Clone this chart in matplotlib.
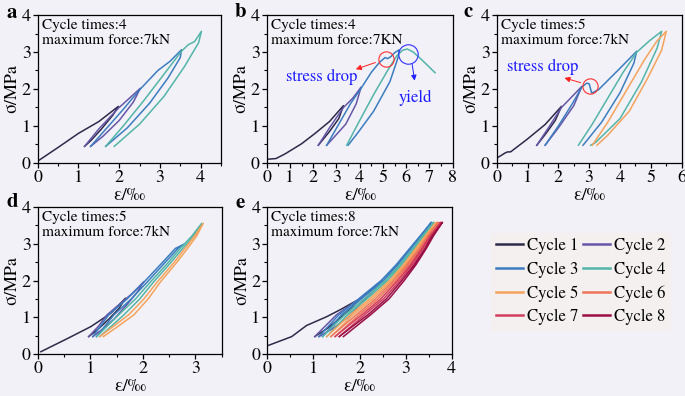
import matplotlib
matplotlib.use("Agg")
import matplotlib.pyplot as plt
from matplotlib.lines import Line2D
from matplotlib.ticker import MultipleLocator

plt.rcParams['font.family'] = ['TeX Gyre Termes', 'Liberation Serif', 'DejaVu Serif']
plt.rcParams['mathtext.fontset'] = 'stix'

BG = '#f2f1f7'
LEG_BG = '#f4f0f0'
CYCLE_LABELS = ['Cycle 1', 'Cycle 2', 'Cycle 3', 'Cycle 4',
                'Cycle 5', 'Cycle 6', 'Cycle 7', 'Cycle 8']
CYCLE_COLORS = ['#2d2a4a', '#6656a8', '#3b7dc0', '#52b5a8',
                '#f5a35c', '#ee7658', '#d43d5a', '#9b0f45']

# ---------------- panel a (cycle times 4) ----------------
A_STRAIN = [
    [0.0, 0.5, 1.0, 1.5, 1.98, 1.85, 1.55, 1.3, 1.15],
    [1.15, 1.5, 1.98, 2.25, 2.52, 2.35, 2.0, 1.6, 1.3],
    [1.3, 1.7, 2.1, 2.52, 2.95, 3.25, 3.53, 3.5, 3.2, 2.75, 2.2, 1.67],
    [1.67, 2.1, 2.6, 3.1, 3.53, 3.7, 3.85, 4.02, 3.95, 3.6, 3.1, 2.5, 1.88],
]
A_STRESS = [
    [0.05, 0.42, 0.8, 1.12, 1.53, 1.3, 0.9, 0.6, 0.45],
    [0.45, 0.92, 1.48, 1.75, 2.02, 1.65, 1.15, 0.72, 0.45],
    [0.45, 0.95, 1.45, 2.0, 2.5, 2.75, 3.06, 2.85, 2.3, 1.62, 0.95, 0.45],
    [0.45, 1.0, 1.68, 2.4, 3.02, 3.2, 3.28, 3.56, 3.25, 2.6, 1.8, 1.05, 0.45],
]

# ---------------- panel b (cycle times 4, failure) ----------------
B_STRAIN = [
    [0.0, 0.4, 0.8, 1.5, 2.08, 2.7, 3.3, 3.1, 2.7, 2.22],
    [2.22, 2.7, 3.3, 3.7, 4.06, 3.85, 3.4, 2.9, 2.58],
    [2.58, 3.1, 3.6, 4.06, 4.5, 4.85, 5.09, 5.2, 5.35, 5.5, 5.7,
     5.65, 5.3, 4.6, 3.9, 3.5],
    [3.44, 4.0, 4.6, 5.2, 5.6, 5.85, 6.05, 6.3, 6.6, 6.9, 7.24],
]
B_STRESS = [
    [0.1, 0.12, 0.25, 0.52, 0.8, 1.12, 1.55, 1.2, 0.85, 0.48],
    [0.48, 0.95, 1.5, 1.75, 2.05, 1.6, 1.05, 0.7, 0.48],
    [0.48, 1.05, 1.6, 2.02, 2.45, 2.72, 2.85, 2.82, 2.88, 2.98, 3.06,
     2.85, 2.2, 1.4, 0.8, 0.48],
    [0.48, 1.15, 1.85, 2.5, 2.9, 3.05, 3.08, 3.0, 2.83, 2.65, 2.44],
]

# ---------------- panel c (cycle times 5, stress drop) ----------------
C_STRAIN = [
    [0.0, 0.27, 0.35, 0.45, 0.97, 1.57, 2.1, 1.9, 1.6, 1.3],
    [1.3, 1.7, 2.1, 2.45, 2.76, 2.5, 2.0, 1.57],
    [1.57, 2.0, 2.45, 2.76, 2.92, 3.0, 3.08, 3.3, 3.95, 4.54,
     4.45, 4.0, 3.4, 2.8],
    [2.65, 3.1, 3.6, 4.1, 4.55, 4.95, 5.35, 5.2, 4.7, 4.0, 3.2, 3.05],
    [3.1, 3.6, 4.2, 4.8, 5.2, 5.5, 5.35, 4.9, 4.3, 3.6, 3.25],
]
C_STRESS = [
    [0.13, 0.27, 0.3, 0.3, 0.63, 1.04, 1.53, 1.15, 0.8, 0.48],
    [0.48, 0.98, 1.5, 1.8, 2.07, 1.55, 0.95, 0.48],
    [0.48, 1.0, 1.6, 2.05, 2.16, 2.14, 1.89, 1.98, 2.52, 3.02,
     2.7, 1.9, 1.1, 0.48],
    [0.48, 1.05, 1.75, 2.45, 3.0, 3.3, 3.56, 3.1, 2.2, 1.2, 0.55, 0.48],
    [0.48, 1.1, 1.95, 2.8, 3.3, 3.56, 3.05, 2.3, 1.4, 0.75, 0.48],
]

# ---------------- panel d (cycle times 5) ----------------
D_STRAIN = [
    [0.06, 0.57, 1.01, 1.39, 1.67, 1.55, 1.35, 1.15, 0.97],
    [0.97, 1.15, 1.32, 1.55, 1.8, 2.02, 1.9, 1.7, 1.45, 1.25, 1.05],
    [1.05, 1.35, 1.7, 2.03, 2.38, 2.62, 2.78, 2.67, 2.43, 2.09, 1.78, 1.45, 1.12],
    [1.12, 1.54, 1.86, 2.15, 2.49, 2.71, 2.93, 3.12,
     2.97, 2.76, 2.54, 2.21, 1.94, 1.64, 1.18],
    [1.18, 1.73, 2.02, 2.28, 2.6, 2.8, 2.98, 3.15,
     3.02, 2.85, 2.65, 2.34, 2.1, 1.83, 1.52, 1.25],
]
D_STRESS = [
    [0.07, 0.43, 0.75, 1.11, 1.52, 1.25, 0.95, 0.68, 0.48],
    [0.48, 0.75, 1.07, 1.35, 1.65, 1.97, 1.7, 1.35, 0.95, 0.7, 0.48],
    [0.48, 1.07, 1.5, 1.97, 2.5, 2.87, 2.98, 2.87, 2.5, 1.97, 1.5, 1.07, 0.48],
    [0.48, 1.07, 1.5, 1.97, 2.5, 2.87, 3.2, 3.55,
     3.2, 2.87, 2.5, 1.97, 1.5, 1.07, 0.48],
    [0.48, 1.07, 1.5, 1.97, 2.5, 2.87, 3.2, 3.55,
     3.2, 2.87, 2.5, 1.97, 1.5, 1.07, 0.75, 0.48],
]

# ---------------- panel e (cycle times 8) ----------------
E_STRAIN = [
    [0.0, 0.53, 0.85, 1.29, 1.6, 1.9, 1.97, 1.8, 1.55, 1.3, 1.03],
    [1.03, 1.5, 1.97, 2.25, 2.48, 2.3, 2.05, 1.75, 1.4, 1.12],
    [1.12, 1.55, 1.98, 2.47, 2.79, 3.09, 3.31, 3.56,
     3.34, 3.12, 2.83, 2.52, 2.04, 1.61, 1.20],
    [1.20, 1.68, 2.10, 2.56, 2.87, 3.16, 3.36, 3.61,
     3.39, 3.19, 2.91, 2.61, 2.16, 1.74, 1.29],
    [1.29, 1.80, 2.22, 2.65, 2.95, 3.22, 3.42, 3.66,
     3.44, 3.25, 2.99, 2.70, 2.28, 1.86, 1.38],
    [1.38, 1.93, 2.34, 2.74, 3.02, 3.29, 3.47, 3.71,
     3.49, 3.32, 3.06, 2.79, 2.40, 1.99, 1.47],
    [1.47, 2.05, 2.46, 2.83, 3.10, 3.35, 3.52, 3.76,
     3.55, 3.38, 3.14, 2.88, 2.52, 2.11, 1.56],
    [1.56, 2.18, 2.58, 2.92, 3.18, 3.42, 3.57, 3.80,
     3.60, 3.45, 3.22, 2.97, 2.64, 2.24, 1.65],
]
E_STRESS = [
    [0.23, 0.48, 0.78, 1.02, 1.22, 1.43, 1.47, 1.22, 0.95, 0.7, 0.48],
    [0.48, 1.07, 1.47, 1.75, 2.0, 1.72, 1.4, 1.0, 0.68, 0.48],
    [0.48, 1.07, 1.5, 2.0, 2.42, 2.87, 3.2, 3.58,
     3.2, 2.87, 2.42, 2.0, 1.5, 1.07, 0.48],
    [0.48, 1.07, 1.5, 2.0, 2.42, 2.87, 3.2, 3.58,
     3.2, 2.87, 2.42, 2.0, 1.5, 1.07, 0.48],
    [0.48, 1.07, 1.5, 2.0, 2.42, 2.87, 3.2, 3.58,
     3.2, 2.87, 2.42, 2.0, 1.5, 1.07, 0.48],
    [0.48, 1.07, 1.5, 2.0, 2.42, 2.87, 3.2, 3.58,
     3.2, 2.87, 2.42, 2.0, 1.5, 1.07, 0.48],
    [0.48, 1.07, 1.5, 2.0, 2.42, 2.87, 3.2, 3.58,
     3.2, 2.87, 2.42, 2.0, 1.5, 1.07, 0.48],
    [0.48, 1.07, 1.5, 2.0, 2.42, 2.87, 3.2, 3.58,
     3.2, 2.87, 2.42, 2.0, 1.5, 1.07, 0.48],
]

CYCLE_TIMES = [4, 4, 5, 5, 8]
FORCE_TEXT = ['7kN', '7KN', '7kN', '7kN', '7kN']
PANEL_LETTERS = ['a', 'b', 'c', 'd', 'e']
X_MAX = [4.5, 8, 6, 3.5, 4]
X_TICKS = [[0, 1, 2, 3, 4], list(range(0, 9)), list(range(0, 7)),
           [0, 1, 2, 3], [0, 1, 2, 3, 4]]
Y_TICKS = [0, 1, 2, 3, 4]

W, H = 685, 396
fig = plt.figure(figsize=(W / 100, H / 100), dpi=100, facecolor=BG)

def frac(l, t, r, b):
    return [l / W, 1 - b / H, (r - l) / W, (b - t) / H]

rects = [frac(37.7, 15, 221, 163), frac(266.7, 15, 452.7, 163),
         frac(496.7, 15, 681.7, 163), frac(37.7, 206.7, 221.7, 354.3),
         frac(267.3, 206.7, 451.7, 354.3)]
letter_pos = [(6, 18), (235, 17), (463, 17), (6, 206.5), (235, 207.5)]
strains = [A_STRAIN, B_STRAIN, C_STRAIN, D_STRAIN, E_STRAIN]
stresses = [A_STRESS, B_STRESS, C_STRESS, D_STRESS, E_STRESS]

axes = []
for k in range(5):
    ax = fig.add_axes(rects[k])
    ax.set_facecolor(BG)
    for xs, ys, col in zip(strains[k], stresses[k], CYCLE_COLORS):
        ax.plot(xs, ys, color=col, lw=1.1, solid_joinstyle='round')
    ax.set_xlim(0, X_MAX[k])
    ax.set_ylim(0, 4)
    ax.set_xticks(X_TICKS[k])
    ax.set_yticks(Y_TICKS)
    ax.xaxis.set_minor_locator(MultipleLocator(0.5))
    ax.yaxis.set_minor_locator(MultipleLocator(0.5))
    ax.tick_params(which='major', direction='out', length=3.5, width=0.9,
                   labelsize=13, pad=1.5, colors='black')
    ax.tick_params(which='minor', direction='out', length=2, width=0.8)
    for s in ax.spines.values():
        s.set_linewidth(0.9)
    ax.set_xlabel('ε/‰', fontsize=13, labelpad=1.5)
    ax.set_ylabel('σ/MPa', fontsize=13, labelpad=1)
    ax.text(0.022, 0.975, 'Cycle times:%d\nmaximum force:%s' % (CYCLE_TIMES[k], FORCE_TEXT[k]),
            transform=ax.transAxes, ha='left', va='top', fontsize=11, linespacing=1.15)
    lx, ly = letter_pos[k]
    fig.text(lx / W, 1 - ly / H, PANEL_LETTERS[k], fontsize=15, fontweight='bold',
             ha='left', va='baseline')
    axes.append(ax)

# annotations panel b
axb = axes[1]
axb.plot([5.12], [2.81], marker='o', ms=11, mfc='none', mec='#ff3030', mew=0.8)
axb.plot([6.06], [2.95], marker='o', ms=14, mfc='none', mec='#3030ff', mew=0.8)
axb.annotate('', xy=(3.72, 2.51), xytext=(4.79, 2.74),
             arrowprops=dict(arrowstyle='-|>', color='#ff2020', lw=0.7, mutation_scale=8))
axb.annotate('', xy=(6.38, 2.15), xytext=(6.24, 2.74),
             arrowprops=dict(arrowstyle='-|>', color='#2020ff', lw=0.7, mutation_scale=8))
axb.text(2.37, 2.33, 'stress drop', color='#1a1aff', fontsize=12, ha='center', va='center')
axb.text(6.38, 1.77, 'yield', color='#1a1aff', fontsize=12, ha='center', va='center')

# annotations panel c
axc = axes[2]
axc.plot([3.04], [2.08], marker='o', ms=11, mfc='none', mec='#ff3030', mew=0.8)
axc.annotate('', xy=(2.11, 2.32), xytext=(2.81, 2.15),
             arrowprops=dict(arrowstyle='-|>', color='#ff2020', lw=0.7, mutation_scale=8))
axc.text(1.49, 2.60, 'stress drop', color='#1a1aff', fontsize=12, ha='center', va='center')

# legend
handles = [Line2D([0], [0], color=c, lw=1.8) for c in CYCLE_COLORS]
order = [0, 2, 4, 6, 1, 3, 5, 7]
leg = fig.legend([handles[i] for i in order], [CYCLE_LABELS[i] for i in order],
                 ncol=2, loc='upper left', bbox_to_anchor=(491 / W, 1 - 233 / H),
                 frameon=True, facecolor=LEG_BG, edgecolor=LEG_BG, framealpha=1,
                 fancybox=False, fontsize=12, handlelength=1.6, handletextpad=0.25,
                 columnspacing=0.3, labelspacing=0.45, borderpad=0.3, borderaxespad=0)

fig.savefig('out.png', dpi=100, facecolor=BG)
